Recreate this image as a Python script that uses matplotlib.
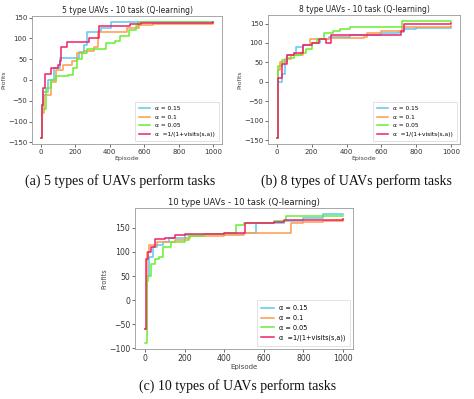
#!/usr/bin/env python3
"""Q-learning profit curves for 5/8/10 UAV types (three panels)."""

import matplotlib
matplotlib.use('Agg')
import matplotlib.pyplot as plt

LABELS = ['α = 0.15', 'α = 0.1', 'α = 0.05', 'α  =1/(1+visits(s,a))']
COLORS = ['#5cc8f0', '#ff9a4c', '#66ee33', '#f0206a']

TITLES = [
    '5 type UAVs - 10 task (Q-learning)',
    '8 type UAVs - 10 task (Q-learning)',
    '10 type UAVs - 10 task (Q-learning)',
]
CAPTIONS = [
    '(a) 5 types of UAVs perform tasks',
    '(b) 8 types of UAVs perform tasks',
    '(c) 10 types of UAVs perform tasks',
]

# --- (a) 5 types: step breakpoints (episode, profit) per alpha
a_ep_015 = [0, 5, 15, 40, 80, 110, 200, 220, 250, 270, 330, 350, 410, 1000]
a_pr_015 = [-140, -60, -30, 0, 30, 53, 53, 68, 85, 115, 118, 125, 140, 140]
a_ep_01 = [0, 5, 20, 60, 90, 130, 180, 210, 250, 310, 330, 500, 570, 650, 1000]
a_pr_01 = [-140, -80, -35, -5, 25, 35, 45, 65, 70, 80, 115, 125, 132, 135, 137]
a_ep_005 = [0, 5, 30, 60, 90, 160, 190, 210, 240, 270, 360, 380, 430, 460, 510, 550, 565, 1000]
a_pr_005 = [-140, -70, -20, 0, 10, 12, 30, 50, 65, 75, 75, 88, 95, 105, 120, 130, 140, 140]
a_ep_vis = [0, 5, 15, 25, 60, 100, 110, 120, 150, 270, 280, 330, 340, 420, 520, 580, 1000]
a_pr_vis = [-140, -60, -20, 15, 30, 35, 45, 80, 92, 92, 100, 100, 130, 130, 135, 138, 140]

# --- (b) 8 types
b_ep_015 = [0, 5, 10, 30, 50, 60, 100, 110, 150, 200, 250, 300, 420, 600, 700, 730, 800, 1000]
b_pr_015 = [-145, -40, 0, 20, 50, 70, 75, 90, 95, 100, 110, 115, 120, 125, 128, 135, 138, 140]
b_ep_01 = [0, 5, 10, 20, 50, 80, 150, 190, 300, 500, 520, 600, 720, 800, 1000]
b_pr_01 = [-145, -30, 30, 50, 60, 70, 95, 110, 112, 115, 125, 130, 140, 142, 145]
b_ep_005 = [0, 5, 10, 30, 60, 100, 140, 170, 200, 230, 270, 320, 360, 420, 720, 1000]
b_pr_005 = [-145, -20, 40, 55, 62, 70, 75, 85, 100, 110, 125, 130, 135, 140, 157, 157]
b_ep_vis = [0, 5, 10, 30, 60, 100, 150, 200, 240, 280, 310, 700, 710, 730, 1000]
b_pr_vis = [-145, -40, 10, 45, 70, 75, 95, 100, 110, 100, 120, 120, 130, 150, 152]

# --- (c) 10 types
c_ep_015 = [0, 10, 20, 40, 60, 90, 120, 200, 300, 500, 560, 700, 800, 900, 1000]
c_pr_015 = [-60, 50, 90, 110, 115, 120, 130, 135, 138, 140, 160, 165, 170, 178, 178]
c_ep_01 = [0, 10, 20, 60, 150, 200, 230, 400, 500, 735, 800, 900, 1000]
c_pr_01 = [-60, 100, 115, 120, 125, 130, 133, 135, 140, 160, 162, 165, 168]
c_ep_005 = [0, 10, 15, 30, 50, 70, 90, 130, 200, 220, 300, 400, 460, 500, 650, 710, 1000]
c_pr_005 = [-88, 40, 50, 75, 85, 90, 110, 120, 125, 133, 137, 140, 155, 160, 165, 175, 175]
c_ep_vis = [0, 5, 15, 30, 50, 100, 150, 200, 300, 400, 505, 650, 700, 1000]
c_pr_vis = [-60, 85, 100, 110, 128, 130, 135, 137, 138, 140, 160, 162, 167, 168]

PANELS = [
    [(a_ep_015, a_pr_015), (a_ep_01, a_pr_01), (a_ep_005, a_pr_005), (a_ep_vis, a_pr_vis)],
    [(b_ep_015, b_pr_015), (b_ep_01, b_pr_01), (b_ep_005, b_pr_005), (b_ep_vis, b_pr_vis)],
    [(c_ep_015, c_pr_015), (c_ep_01, c_pr_01), (c_ep_005, c_pr_005), (c_ep_vis, c_pr_vis)],
]

# axes rectangles in pixels: left, top, right, bottom (figure is 474x399)
W, H = 474, 399
RECTS = [(32, 16, 222, 144), (268, 15, 460, 144), (135, 208, 353, 349)]
CAPTION_POS = [(120, 181), (356, 181), (238, 386)]
SCALE = [1.0, 1.0, 1.12]  # panel (c) was pasted in a bit larger


def to_frac(rect):
    l, t, r, b = rect
    return [l / W, 1 - b / H, (r - l) / W, (b - t) / H]


fig = plt.figure(figsize=(W / 100, H / 100), dpi=100)

for i, series in enumerate(PANELS):
    s = SCALE[i]
    ax = fig.add_axes(to_frac(RECTS[i]))
    for (ep, pr), color, label in zip(series, COLORS, LABELS):
        ax.step(ep, pr, where='post', color=color, lw=1.1, label=label)
    ax.set_xticks([0, 200, 400, 600, 800, 1000])
    ax.set_title(TITLES[i], fontsize=5.5 * s, pad=2, color='#222222')
    ax.set_xlabel('Episode', fontsize=4.5 * s, labelpad=1, color='#444444')
    ax.set_ylabel('Profits', fontsize=4.2 * s, labelpad=1, color='#444444')
    ax.tick_params(labelsize=5 * s, length=2, width=0.5, pad=1.5, colors='#333333')
    for sp in ax.spines.values():
        sp.set_color('#999999')
        sp.set_linewidth(0.6)
    leg = ax.legend(loc='lower right', fontsize=4.2 * s, frameon=True,
                    handlelength=1.9, borderpad=0.7, labelspacing=0.6,
                    fancybox=False, edgecolor='#cccccc')
    leg.get_frame().set_linewidth(0.5)
    x, y = CAPTION_POS[i]
    fig.text(x / W, 1 - y / H, CAPTIONS[i], ha='center', va='center',
             fontsize=10, family='Liberation Serif', color='#111111')

plt.savefig('out.png', dpi=100)
plt.close()
